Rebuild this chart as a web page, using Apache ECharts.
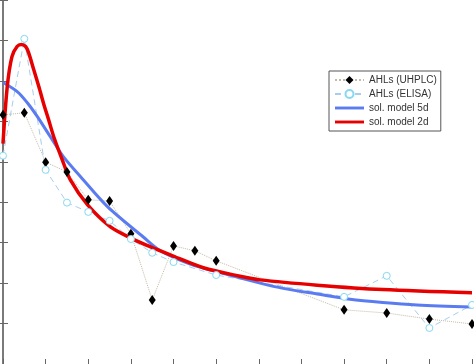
<!DOCTYPE html>
<html>
<head>
<meta charset="utf-8">
<script src="https://cdn.jsdelivr.net/npm/echarts@6/dist/echarts.min.js"></script>
<style>
html,body{margin:0;padding:0;background:#fff;}
#c{width:474px;height:364px;}
</style>
</head>
<body>
<div id="c"></div>
<script>
// Measured data (x in axis units 0..11, y in axis units 0..9)
var uhplcX = [0,0.5,1,1.5,2,2.5,3,3.5,4,4.5,5,8,9,10,11];
var uhplcY = [6.16,6.21,4.99,4.75,4.06,4.03,3.22,1.58,2.92,2.80,2.55,1.34,1.26,1.11,0.99];
var elisaX = [0,0.5,1,1.5,2,2.5,3,3.5,4,5,8,9,10,11];
var elisaY = [5.15,8.04,4.80,3.99,3.76,3.54,3.09,2.75,2.52,2.20,1.66,2.18,0.89,1.46];
var model5dX = [0,0.34,0.57,0.81,1.11,1.42,1.82,2.45,3.29,3.69,4.39,5.16,6.03,6.57,7.37,8.14,8.91,9.71,11];
var model5dY = [6.96,6.73,6.46,6.11,5.62,5.12,4.63,3.89,3.14,2.80,2.47,2.24,2.00,1.87,1.73,1.60,1.52,1.46,1.41];
var model2dX = [0,0.1,0.21,0.33,0.43,0.53,0.6,0.72,0.84,0.96,1.07,1.19,1.39,1.58,1.98,2.52,2.99,3.45,3.99,4.7,5.56,6.03,7.37,8.91,11];
var model2dY = [5.45,6.86,7.6,7.85,7.9,7.85,7.7,7.28,6.86,6.41,6.04,5.62,5.05,4.55,3.94,3.39,3.12,2.90,2.67,2.38,2.17,2.08,1.95,1.84,1.76];
var seriesNames = ['AHLs (UHPLC)','AHLs (ELISA)','sol. model 5d','sol. model 2d'];

function pairs(xs, ys){ return xs.map(function(x,i){ return [x, ys[i]]; }); }

var chart = echarts.init(document.getElementById('c'), null, {renderer:'canvas'});
var tickStyle = {show:true, inside:true, length:5, lineStyle:{color:'#666', width:1}};
var xBase = {type:'value', min:0, max:11, interval:1, axisLabel:{show:false}, splitLine:{show:false}, axisTick:tickStyle};
var yBase = {type:'value', min:0, max:9, interval:1, axisLabel:{show:false}, splitLine:{show:false}, axisTick:tickStyle};
var barIcon = 'path://M0,0 L30,0 L30,3 L0,3 Z';

chart.setOption({
  animation:false,
  backgroundColor:'#fff',
  grid:{left:3, right:2, top:0, bottom:0, containLabel:false},
  xAxis:[
    Object.assign({}, xBase, {position:'bottom', axisLine:{show:false}}),
    Object.assign({}, xBase, {position:'top', axisLine:{show:false}})
  ],
  yAxis:[
    Object.assign({}, yBase, {position:'left', axisLine:{show:true, lineStyle:{color:'#7a7a7a', width:2}}}),
    Object.assign({}, yBase, {position:'right', axisLine:{show:true, lineStyle:{color:'#7a7a7a', width:2}}})
  ],
  legend:{
    orient:'vertical', left:329, top:71,
    itemWidth:29, itemHeight:10, itemGap:4,
    padding:[4,4,4,5],
    backgroundColor:'#fff', borderColor:'#555', borderWidth:1,
    textStyle:{fontFamily:'Liberation Sans, Arial, sans-serif', fontSize:10, color:'#333'},
    data:[
      {name:seriesNames[0]},
      {name:seriesNames[1]},
      {name:seriesNames[2], icon:barIcon},
      {name:seriesNames[3], icon:barIcon}
    ]
  },
  series:[
    {
      name:seriesNames[0], type:'line', data:pairs(uhplcX, uhplcY),
      symbol:'diamond', symbolSize:[7,10],
      itemStyle:{color:'#000', borderWidth:0},
      lineStyle:{color:'#c4bca4', width:1, type:'dotted'}
    },
    {
      name:seriesNames[1], type:'line', data:pairs(elisaX, elisaY),
      symbol:'circle', symbolSize:7,
      itemStyle:{color:'#fff', borderColor:'#86d8f0', borderWidth:1},
      lineStyle:{color:'#a8cdee', width:1, type:[6,4]}
    },
    {
      name:seriesNames[2], type:'line', data:pairs(model5dX, model5dY),
      symbol:'none', smooth:0.3,
      lineStyle:{color:'#5a7cf0', width:3},
      itemStyle:{color:'#5a7cf0'}
    },
    {
      name:seriesNames[3], type:'line', data:pairs(model2dX, model2dY),
      symbol:'none', smooth:0.3,
      lineStyle:{color:'#e60000', width:3.5},
      itemStyle:{color:'#e60000'}
    }
  ]
});
</script>
</body>
</html>
